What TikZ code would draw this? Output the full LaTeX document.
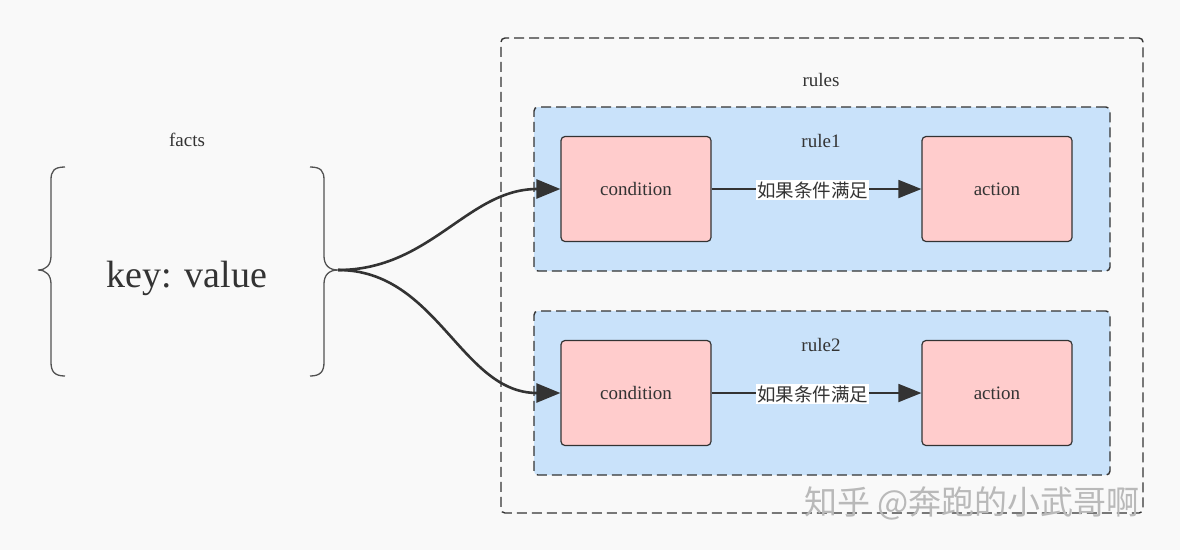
\documentclass[tikz,border=0pt]{standalone}
\usepackage{fontspec}
\setmainfont{Liberation Serif}
\newfontfamily\cjk{Noto Sans CJK SC}
\usetikzlibrary{arrows.meta}
\definecolor{bgcol}{HTML}{F9F9F9}
\definecolor{inkcol}{HTML}{333333}
\definecolor{rulecol}{HTML}{C9E2FA}
\definecolor{boxcol}{HTML}{FFCCCC}
\begin{document}
\begin{tikzpicture}[
    x=1pt, y=-1pt,
    txt/.style={font=\fontsize{19}{22}\selectfont, text=inkcol},
    frame/.style={draw=inkcol, line width=1.4pt, dash pattern=on 10pt off 5pt,
      rounded corners=4pt},
    rulebox/.style={frame, fill=rulecol, minimum width=576pt, minimum height=164pt},
    cbox/.style={draw=inkcol, line width=1.2pt, fill=boxcol, rounded corners=4pt,
      minimum width=150pt, minimum height=105pt, txt},
    flow/.style={draw=inkcol, line width=2.6pt,
      -{Triangle[length=24pt, width=19pt]}},
    step arrow/.style={draw=inkcol, line width=1.8pt,
      -{Triangle[length=23pt, width=18pt]}},
    cond/.style={font=\cjk\fontsize{18.5}{22}\selectfont, text=inkcol,
      fill=white, inner sep=1pt},
    brace/.style={draw=inkcol!85, line width=1.3pt}
  ]
    \useasboundingbox[fill=bgcol] (0,0) rectangle (1180,550);
    % facts
    \node[txt] (factslabel) at (187,140) {facts};
    \node[font=\fontsize{38}{44}\selectfont, text=inkcol] (kv) at (187,278) {key: value};
    \draw[brace] (65,167) .. controls (54,167) and (51,171) .. (51,180)
      -- (51,256) .. controls (51,265) and (46,270) .. (38,270)
      .. controls (46,270) and (51,275) .. (51,284)
      -- (51,362) .. controls (51,371) and (54,376) .. (65,376);
    \draw[brace] (310,167) .. controls (321,167) and (324,171) .. (324,180)
      -- (324,256) .. controls (324,265) and (329,270) .. (338,270)
      .. controls (329,270) and (324,275) .. (324,284)
      -- (324,362) .. controls (324,371) and (321,376) .. (310,376);
    \coordinate (tip) at (338,270);
    % rules
    \node[frame, minimum width=642pt, minimum height=475pt] (rules) at (822,275.5) {};
    \node[txt] (ruleslabel) at (821,80) {rules};
    \node[rulebox] (rule1) at (822,189) {};
    \node[rulebox] (rule2) at (822,393) {};
    \node[txt] (r1label) at (821,141) {rule1};
    \node[txt] (r2label) at (821,345) {rule2};
    \node[cbox] (cond1) at (636,189) {condition};
    \node[cbox] (act1) at (997,189) {action};
    \node[cbox] (cond2) at (636,393) {condition};
    \node[cbox] (act2) at (997,393) {action};
    \draw[step arrow] (cond1) -- node[cond, xshift=-4pt, yshift=-1pt] {如果条件满足} (act1);
    \draw[step arrow] (cond2) -- node[cond, xshift=-4pt, yshift=-1pt] {如果条件满足} (act2);
    \draw[flow] (tip) to[out=0, in=180] (cond1.west);
    \draw[flow] (tip) to[out=0, in=180] (cond2.west);
    % watermark
    \node[font=\cjk\fontsize{33}{38}\selectfont, text=gray!55] (mark) at (972,503)
      {知乎 @奔跑的小武哥啊};
  \end{tikzpicture}
\end{document}
